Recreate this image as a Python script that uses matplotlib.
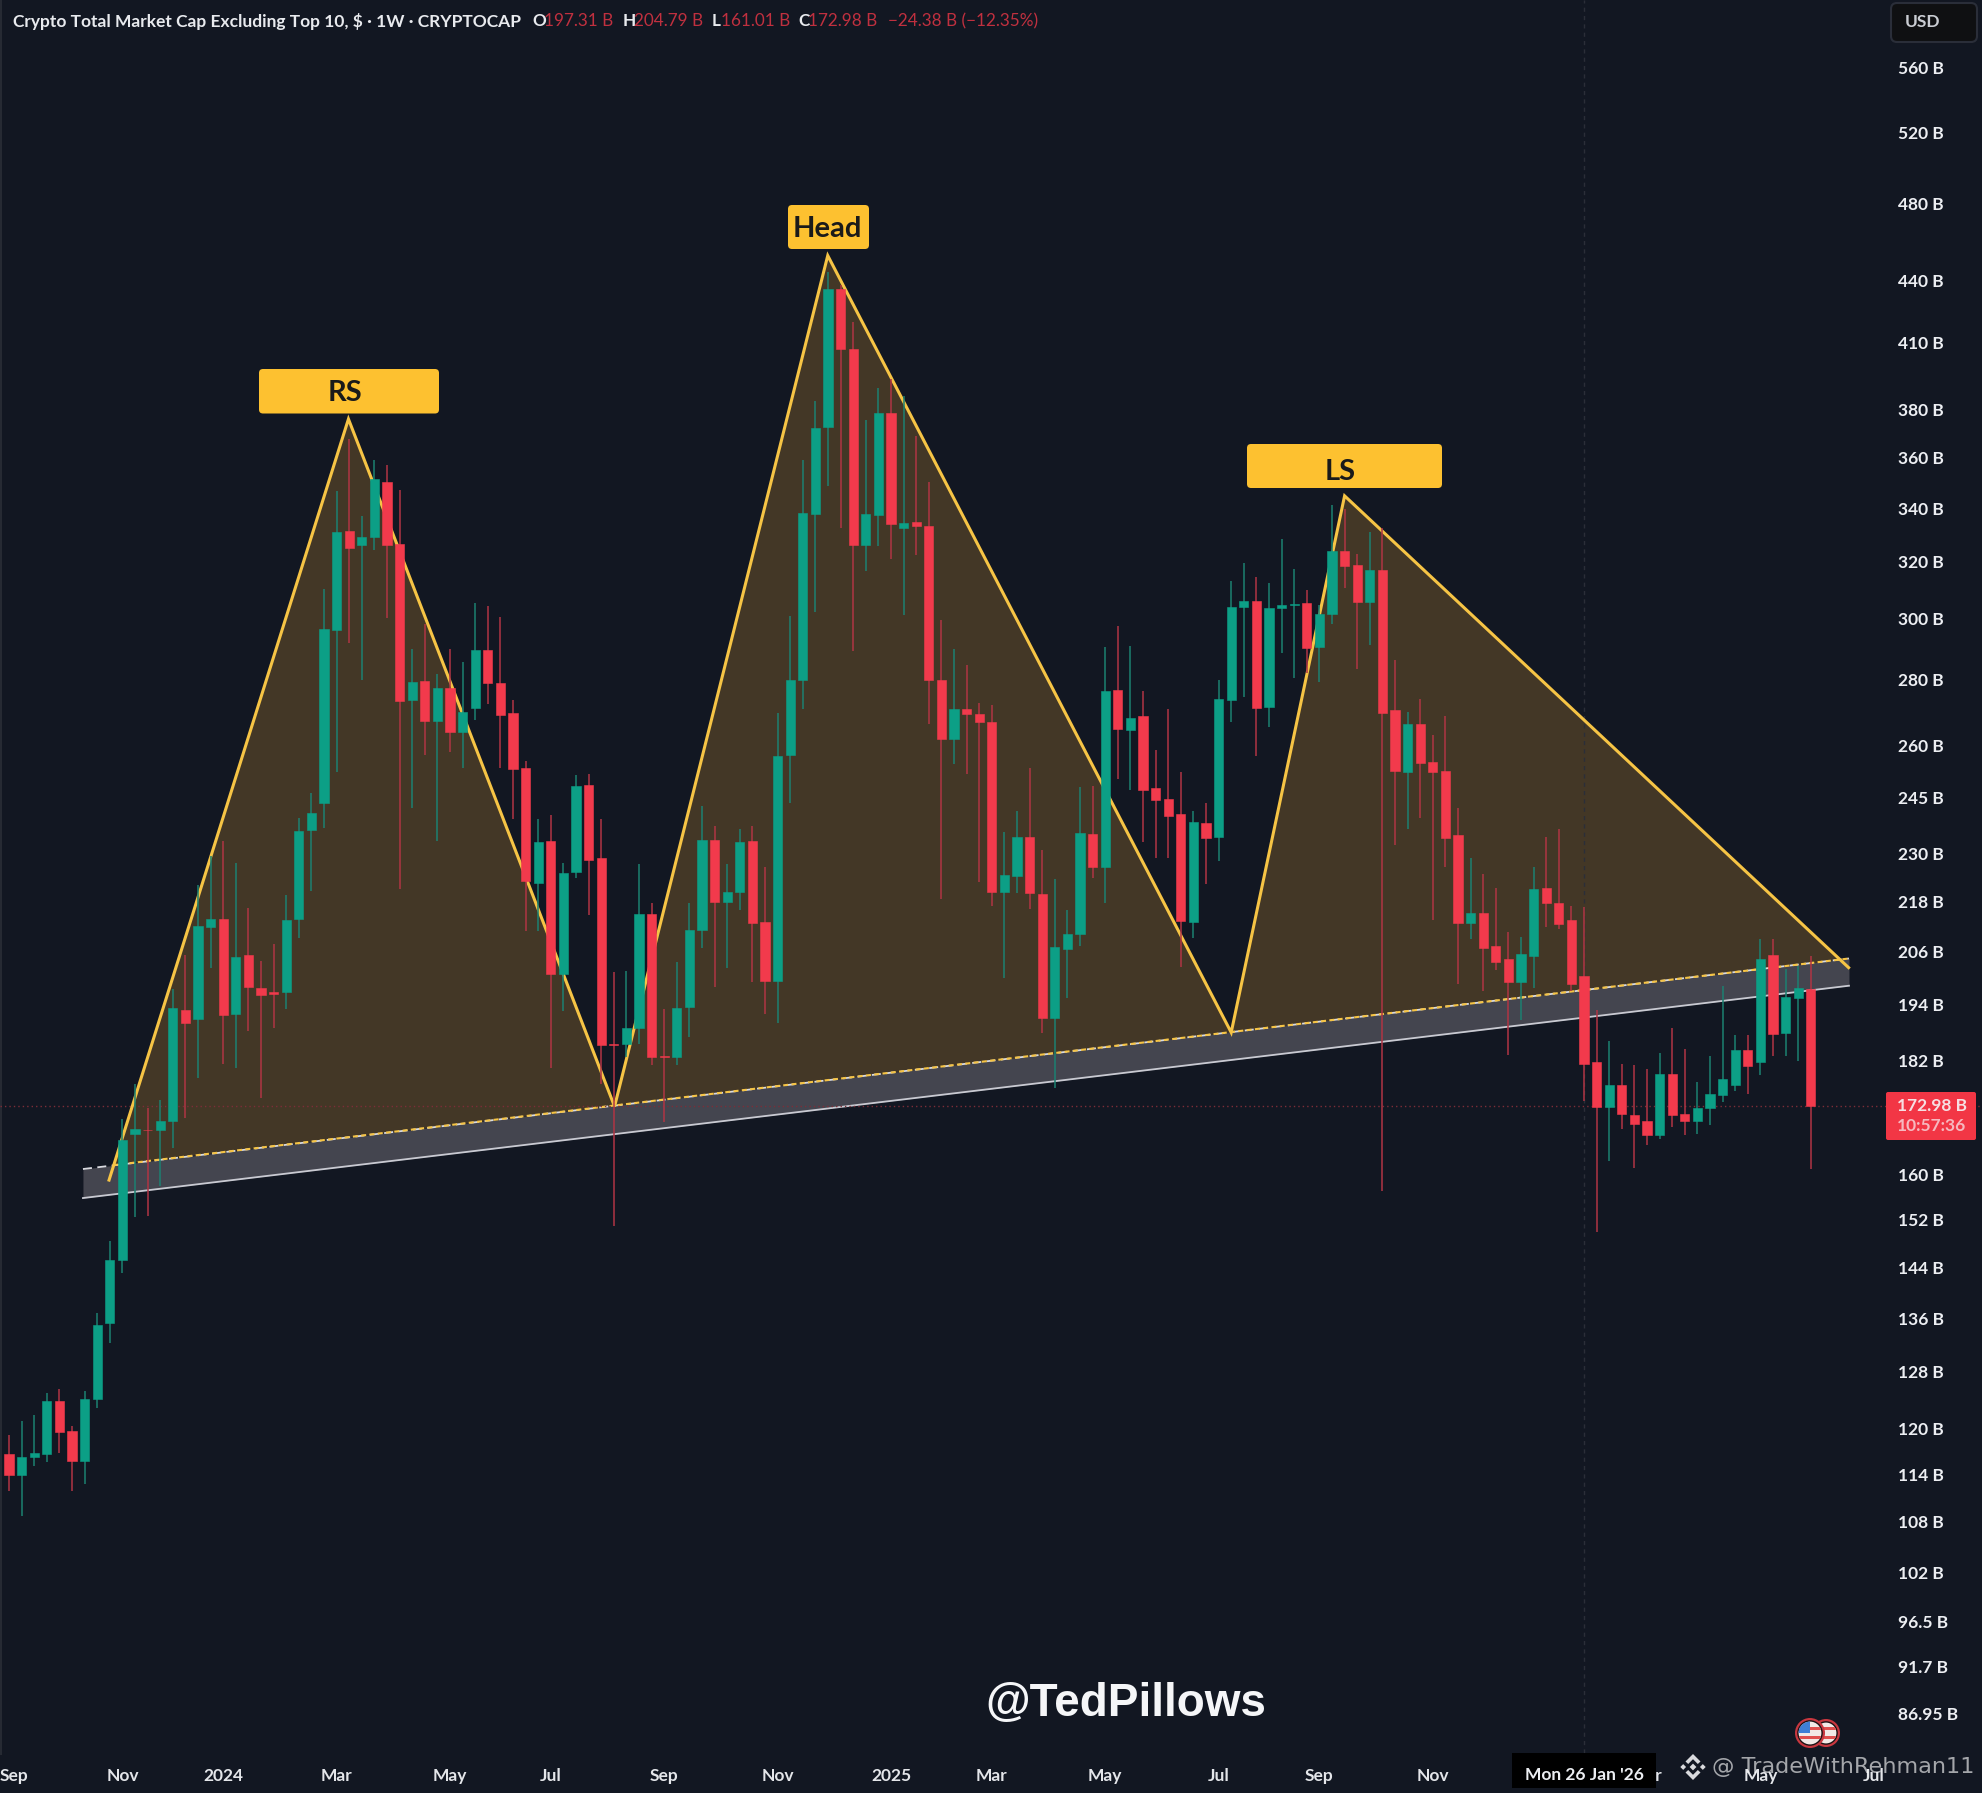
import matplotlib
matplotlib.use("Agg")
import matplotlib.pyplot as plt
from matplotlib.patches import FancyBboxPatch, Rectangle, Circle, Polygon
from matplotlib.transforms import Affine2D
import numpy as np

W, H = 1983, 1793
BG = '#121722'
GREEN = '#0c9f86'
RED = '#f23a4c'
GOLD = '#f6c445'
BOX = '#fdc130'

opens = [
116.6,113.9,116.2,116.6,123.9,119.7,115.7,124.1,135.3,145.2,
167.5,168.3,168.2,169.9,192.7,190.8,211.6,213.7,191.9,205.0,
197.7,196.8,196.7,213.6,236.2,243.7,296.2,331.2,326.3,329.1,
350.4,326.6,273.7,279.7,267.2,277.4,264.1,271.1,289.6,279.1,
269.8,253.3,222.6,233.4,200.7,225.3,248.6,228.8,185.5,185.5,
188.9,214.9,182.9,182.7,193.4,211.0,233.7,217.9,220.3,233.3,
212.8,199.1,257.2,280.1,337.9,372.9,435.9,407.2,326.1,337.5,
378.7,332.5,334.9,333.3,280.0,261.8,271.0,269.5,267.1,220.3,
224.4,234.3,219.8,191.0,206.5,210.0,235.1,226.7,276.8,264.5,
268.8,247.8,244.7,240.5,212.9,238.1,234.4,273.7,304.2,306.2,
271.5,303.7,304.7,305.4,290.7,301.5,324.1,318.9,305.7,316.9,
270.7,252.2,266.4,255.1,252.6,234.8,212.7,215.2,207.2,204.2,
199.0,204.8,221.3,217.6,213.5,200.2,181.7,172.8,177.0,171.1,
170.0,167.4,179.2,171.3,170.0,172.6,175.0,177.0,184.3,181.7,
205.2,187.7,195.3,197.31]
highs = [
119.1,121.0,121.9,125.0,125.6,120.4,125.3,136.8,148.4,170.4,
177.2,172.5,174.1,197.4,205.2,222.0,229.4,233.4,227.6,216.2,
203.7,207.7,219.5,239.5,246.5,310.3,346.7,367.8,337.0,359.1,
357.2,347.1,290.1,298.2,282.0,290.1,285.7,305.5,304.4,300.6,
273.7,255.4,239.3,240.2,227.6,251.5,251.7,239.3,201.1,201.5,
227.4,217.5,193.0,203.6,217.5,242.7,237.3,227.4,236.6,237.3,
226.7,269.8,301.0,359.1,384.0,444.3,437.5,419.6,375.8,389.7,
393.5,386.0,369.1,350.2,299.5,290.1,284.7,272.9,272.1,235.8,
241.3,253.4,231.0,223.6,215.7,247.9,248.3,290.6,297.7,291.0,
276.4,258.6,270.9,252.3,241.3,243.7,280.1,313.2,319.6,314.6,
312.6,328.3,317.3,310.0,304.9,341.4,339.6,322.8,330.8,332.6,
286.3,270.1,274.1,263.1,268.9,242.2,229.0,224.9,221.2,210.4,
209.3,226.6,234.4,236.6,216.7,216.5,192.8,186.1,181.4,181.1,
180.2,183.5,188.9,184.4,177.6,183.0,198.1,187.3,187.3,208.9,
208.9,201.9,202.5,204.79]
lows = [
111.9,108.7,115.1,115.6,116.7,111.9,112.7,122.9,132.2,143.2,
152.5,152.7,157.9,164.9,170.5,178.4,202.1,181.3,180.4,188.3,
174.5,188.8,193.0,209.1,220.6,236.7,252.4,292.0,279.8,324.2,
300.3,220.9,242.2,257.2,233.4,258.0,253.3,267.7,272.6,253.3,
239.3,210.7,210.7,180.4,192.5,223.9,214.6,177.2,150.9,182.8,
185.5,181.2,169.8,181.2,186.9,206.8,197.9,202.1,215.9,198.9,
191.9,190.0,243.7,270.9,302.5,348.6,332.5,289.4,316.6,325.9,
321.2,301.3,322.6,266.3,218.5,254.7,251.8,222.7,216.7,199.8,
219.9,216.1,187.7,176.4,195.4,207.1,223.9,217.5,250.2,247.1,
233.0,228.8,228.8,202.3,209.1,222.3,228.1,266.9,274.6,257.0,
265.6,288.8,280.6,282.2,279.3,298.2,310.7,283.5,291.2,157.0,
232.2,236.4,239.4,213.5,226.6,198.4,208.9,196.9,201.6,183.2,
190.5,197.5,211.6,211.2,196.9,173.9,150.0,162.5,168.5,161.2,
165.4,166.5,168.8,167.4,167.5,169.3,173.7,175.8,175.3,179.1,
183.0,183.0,182.0,161.01]
closes = [
113.9,116.3,116.7,123.9,119.6,115.7,124.1,135.0,145.2,166.3,
168.4,168.2,170.0,193.1,189.9,212.0,213.7,191.6,204.7,197.8,
196.0,196.3,213.4,236.1,240.9,296.7,330.9,325.2,329.3,351.3,
326.3,273.3,279.4,267.2,277.4,264.1,269.9,289.6,279.0,269.2,
253.0,223.0,233.2,200.7,225.1,248.3,228.5,185.2,185.3,188.9,
214.9,182.7,182.7,193.1,210.9,233.7,217.7,220.3,233.0,212.6,
199.1,257.0,279.8,338.1,372.4,435.9,406.9,326.1,337.7,378.7,
333.9,334.5,333.1,280.1,261.8,270.9,269.3,267.0,220.3,224.6,
234.3,219.9,191.0,206.9,210.0,235.4,226.6,276.4,264.8,268.3,
247.1,244.5,240.1,213.1,238.4,234.1,273.9,304.0,306.2,271.3,
303.7,304.6,305.1,290.4,301.8,324.1,318.4,305.7,316.9,269.7,
252.5,266.4,254.8,252.2,234.1,212.6,215.2,206.7,203.4,199.0,
205.4,221.0,217.5,212.5,198.4,181.4,172.7,177.0,171.3,169.4,
167.4,179.3,171.1,170.0,172.6,175.3,178.2,184.3,181.0,204.2,
187.5,195.5,197.6,172.98]

price_ticks = [560,520,480,440,410,380,360,340,320,300,280,260,245,230,218,206,194,182,
               160,152,144,136,128,120,114,108,102,96.5,91.7,86.95]
price_labels = ['560 B','520 B','480 B','440 B','410 B','380 B','360 B','340 B','320 B','300 B',
                '280 B','260 B','245 B','230 B','218 B','206 B','194 B','182 B','160 B','152 B',
                '144 B','136 B','128 B','120 B','114 B','108 B','102 B','96.5 B','91.7 B','86.95 B']
time_ticks = [0.4,9,17,26,35,43,52,61,70,78,87,96,104,113,130,139,148]
time_labels = ['Sep','Nov','2024','Mar','May','Jul','Sep','Nov','2025','Mar','May','Jul','Sep','Nov','Mar','May','Jul']

# head and shoulders pattern: bar index, price (B)
pattern_x = [7.94,26.94,48.06,64.98,97.0,106.0,146.0]
pattern_p = [159.0,376.1,172.8,452.5,187.9,344.8,202.2]
fill_x = [8.25,26.94,48.06,64.98,97.0,106.0,145.4]
fill_p = [161.7,376.1,172.8,452.5,187.9,344.8,203.5]
band_x = [5.87,146.03]
band_top = [161.0,204.3]
band_bot = [155.8,198.1]
neck_x = [8.25,146.03]
neck_p = [161.7,204.3]
last_close = 172.98
cursor_bar = 125

plt.rcParams['font.family'] = ['Lato', 'DejaVu Sans']
fig = plt.figure(figsize=(W/100, H/100), dpi=100, facecolor=BG)
ax = fig.add_axes([0, (H-1753)/H, 1, 1753/H], facecolor=BG)
ax.set_yscale('log')
ax.set_xlim(-9/12.6, (W-9)/12.6)
ax.set_ylim(83.16, 604.2)
for s in ['top','right','bottom']:
    ax.spines[s].set_visible(False)
ax.spines['left'].set_color('#262a33')
ax.spines['left'].set_linewidth(2.2)

x = np.arange(len(opens))
assert len(opens) == len(highs) == len(lows) == len(closes)

ax.fill(fill_x, fill_p, color='#433726', lw=0, zorder=1)
ax.fill_between(band_x, band_bot, band_top, color='#44454f', lw=0, zorder=1.5)
ax.plot(band_x, band_bot, color='#c9cad2', lw=1.3, zorder=2)
ax.plot(band_x, band_top, color='#d9dae0', lw=1.3, ls=(0, (5, 3)), zorder=2)
ax.plot(neck_x, neck_p, color=GOLD, lw=1.5, ls=(0, (2.4, 1.6)), zorder=2.5)
ax.plot(pattern_x, pattern_p, color=GOLD, lw=2.2, zorder=3, solid_joinstyle='miter')

ax.axvline(cursor_bar, color='#2b2e38', lw=1, ls=(0, (3, 3)), zorder=2.8)
ax.axhline(last_close, color='#7d2d38', lw=1, ls=(0, (1, 2.2)), zorder=2.8)

up = np.array(closes) >= np.array(opens)
colors = [GREEN if u else RED for u in up]
wick_colors = ['#1c8171' if u else '#b03544' for u in up]
ax.vlines(x, lows, highs, colors=wick_colors, lw=1.1, zorder=4)
bot = np.minimum(opens, closes)
ax.bar(x, np.abs(np.array(closes)-np.array(opens)), bottom=bot, width=0.74,
       color=colors, lw=0.4, edgecolor=colors, zorder=5)

ax.set_yticks(price_ticks)
ax.set_yticklabels(price_labels)
ax.minorticks_off()
ax.yaxis.tick_right()
ax.tick_params(axis='y', length=0, pad=-61.2, labelsize=12.5, labelcolor='#eceef2')
for t in ax.get_yticklabels():
    t.set_fontweight('bold')
ax.set_xticks(time_ticks)
ax.set_xticklabels(time_labels)
ax.tick_params(axis='x', length=0, pad=10.5, labelsize=12.5, labelcolor='#e4e6ea')
for t in ax.get_xticklabels():
    t.set_fontweight('bold')

px = Affine2D().scale(1/W, -1/H).translate(0, 1) + fig.transFigure

def rbox(x0, y0, x1, y1, fc, r=4, ec='none', lw=0, z=6):
    p = FancyBboxPatch((x0+r, y0+r), x1-x0-2*r, y1-y0-2*r, boxstyle=f'round,pad={r},rounding_size={r}',
                       fc=fc, ec=ec, lw=lw, transform=px, zorder=z)
    fig.add_artist(p)

def txt(xp, yp, s, **kw):
    kw.setdefault('va', 'center')
    kw.setdefault('zorder', 8)
    return fig.text(xp, yp, s, transform=px, **kw)

# pattern labels
rbox(259, 369, 439, 413.5, BOX)
txt(345, 393, 'RS', ha='center', fontsize=21, fontweight='bold', color='#1a1a1a')
rbox(788, 205, 869, 249, BOX)
txt(827, 229, 'Head', ha='center', fontsize=21, fontweight='bold', color='#1a1a1a')
rbox(1247, 444, 1442, 488, BOX)
txt(1340, 472, 'LS', ha='center', fontsize=21, fontweight='bold', color='#1a1a1a')

# header
txt(13, 21, 'Crypto Total Market Cap Excluding Top 10, $ · 1W · CRYPTOCAP', fontsize=12.5, fontweight='bold', color='#e8eaee')
hdr = [(532, 'O', '#e8eaee'), (544, '197.31 B', '#c0303f'), (623, 'H', '#e8eaee'), (634, '204.79 B', '#c0303f'),
       (712, 'L', '#e8eaee'), (721, '161.01 B', '#c0303f'), (798, 'C', '#e8eaee'), (808, '172.98 B', '#c0303f'),
       (888, '−24.38 B (−12.35%)', '#c0303f')]
for xp, s, c in hdr:
    txt(xp, 21, s, fontsize=12.3, fontweight='bold' if c != '#c0303f' else 'normal', color=c)

# USD box
rbox(1891, 3, 1977, 42, '#0f1012', r=6, ec='#2a2e39', lw=1.5)
txt(1905, 22, 'USD', fontsize=12.5, color='#c9ccd2', fontweight='bold')

# last price tag
rbox(1886, 1092, 1976, 1140, '#f23645', r=2)
txt(1897, 1106, '172.98 B', fontsize=12.5, color='#f6dfe2', fontweight='bold')
txt(1897, 1126, '10:57:36', fontsize=12.5, color='#f6b8bf', fontweight='bold')

# cursor date tag
fig.add_artist(Rectangle((1512, 1753), 144, 35, fc='#000000', ec='none', transform=px, zorder=6))
txt(1584, 1775, "Mon 26 Jan '26", ha='center', fontsize=12.5, color='#eceef2', fontweight='bold')

# watermarks
txt(1126, 1704, '@TedPillows', ha='center', fontsize=33, fontweight='bold', color='#f5f6f8',
    family='Liberation Sans')
txt(1712, 1767, '@ TradeWithRehman11', ha='left', fontsize=16.1, color='#ffffff', alpha=0.62,
    family='DejaVu Sans')

# binance mark
cx0, cy0 = 1693, 1767
mark = '#d9dadd'
for sgn in [-1, 1]:
    pts = [(0, 13), (7.5, 5.5), (4.8, 3), (0, 7.8), (-4.8, 3), (-7.5, 5.5)]
    fig.add_artist(Polygon([(cx0+a, cy0+sgn*b) for a, b in pts], closed=True, fc=mark, ec='none',
                           transform=px, zorder=8))
for (cx, cy, s) in [(cx0-9.8, cy0, 2.9), (cx0+9.8, cy0, 2.9), (cx0, cy0, 3.4)]:
    fig.add_artist(Polygon([(cx, cy-s), (cx+s, cy), (cx, cy+s), (cx-s, cy)], closed=True, fc=mark, ec='none',
                           transform=px, zorder=8))

# flag coins
def coin(cx, cy, r, z, canton=True):
    fig.add_artist(Circle((cx, cy), r, fc='#c8373f', ec='none', transform=px, zorder=z))
    fig.add_artist(Circle((cx, cy), r-2.2, fc='#1d1215', ec='none', transform=px, zorder=z+.01))
    inner = Circle((cx, cy), r-3.6, fc='#f2e9e6', ec='none', transform=px, zorder=z+.02)
    fig.add_artist(inner)
    for k in [-1, 1]:
        s = Rectangle((cx-r, cy+k*4.5-1.5), 2*r, 3.2, fc='#e0504f', ec='none', transform=px, zorder=z+.03)
        fig.add_artist(s)
        s.set_clip_path(inner)
    if canton:
        c = Rectangle((cx-r, cy-r), r, r, fc='#3f7fd6', ec='none', transform=px, zorder=z+.04)
        fig.add_artist(c)
        c.set_clip_path(inner)

coin(1826, 1733, 14, 8.1, canton=False)
coin(1810, 1733, 15, 8.2)

fig.savefig('out.png', dpi=100, facecolor=BG)
